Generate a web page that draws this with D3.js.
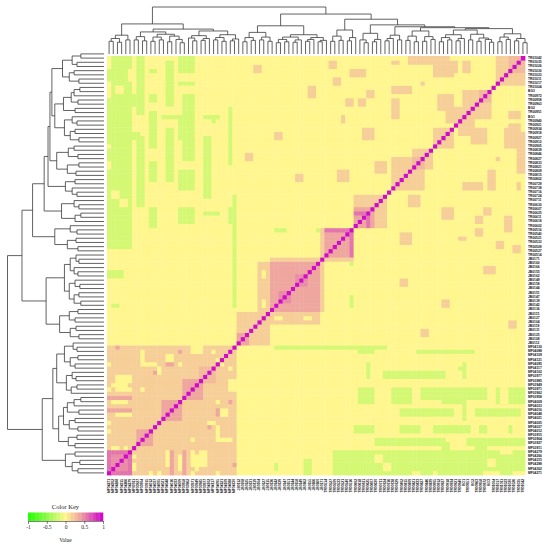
<!DOCTYPE html>
<html>
<head>
<meta charset="utf-8">
<script src="https://cdn.jsdelivr.net/npm/d3@7"></script>
<style>
  body { margin: 0; background: #fff; }
  svg { display: block; }
</style>
</head>
<body>
<svg id="chart" width="550" height="549"></svg>
<script>
// leaf names, in dendrogram order (left → right, bottom → top)
const leafNames = ("MF04271 MF04302 MF04288 MF04315 MF04266 MF04279 MF03911 MF03927 MF03904 MF03915 " +
  "MF04012 MF04037 MF04005 MF04021 MF04048 MF04016 MF04033 MF04009 MF03958 MF03962 " +
  "MF03971 MF03949 MF03985 MF03977 MF04102 MF04117 MF04095 MF04121 MF04109 MF04088 " +
  "MF04130 JB0112 JB0108 JB0125 JB0131 JB0119 JB0104 JB0127 JB0115 JB0136 " +
  "JB0142 JB0139 JB0147 JB0151 JB0144 JB0158 JB0149 JB0162 JB0155 JB0166 " +
  "JB0160 JB0171 TR00514 TR00527 TR00509 TR00533 TR00521 TR00540 TR00516 TR00602 " +
  "TR00618 TR00611 TR00625 TR00607 TR00630 TR00711 TR00724 TR00716 TR00738 TR00729 " +
  "TR00802 TR00815 TR00809 TR00821 TR00833 TR00827 TR00846 TR00839 TR00905 TR00912 " +
  "TR00927 TR00918 TR00934 TR00921 TR00940 BG1 TR00951 BG2 TR00963 TR00958 " +
  "TR00972 BG3 TR01004 TR01017 TR01011 TR01023 TR01030 TR01026 TR01035 TR01042").split(" ");

// dendrogram (same tree for rows and columns); numbers = merge height in % of root
const treeNewick =
  "((" +
    "(((x,x)27,(x,x)25)33,(x,x)30)40," +
    "((((x,x)30,(x,x)28)37,(((x,x)27,(x,x)30)36,((x,x)26,(x,(x,x)24)31)38)42)47," +
     "(((x,(x,x)28)34,((x,x)29,x)33)39,(((x,x)30,(x,x)27)35,((x,x)28,x)32)41)49)53" +
  ")64,(" +
    "((((x,x)26,(x,x)29)35,((x,x)30,(x,x)27)36)46," +
     "((((x,x)24,(x,x)26)31,((x,x)25,x)30)36,(((x,x)27,x)31,((x,x)26,x)29)35)41)60," +
    "((((x,x)27,(x,x)29)38,((x,x)28,x)35)51," +
     "(((x,(x,x)24)30,((x,x)26,x)31)44," +
      "((((x,x)28,x)33,(x,x)30)40," +
       "((((x,x)29,(x,x)26)38,((x,x)27,(x,x)31)37)49," +
        "(((((x,x)26,(x,x)30)35,((x,x)28,x)33)41,((x,x)30,((x,x)27,(x,(x,x)25)31)34)42)51," +
         "(((x,x)26,(x,x)31)36,((x,x)28,(x,x)24)33)43)54)56)58)62)74" +
  ")85)100";

// correlation regions: [i0, i1, j0, j1] (symmetric)
const baseValue = 0.02;
const peachRegions = [
  [0,30,0,30],[31,38,31,38],[36,50,36,50],[51,51,39,50],[51,58,51,58],[59,66,59,66],
  [68,75,68,75],[78,82,78,82],[81,84,84,87],[85,91,85,91],[93,99,93,99],
  [68,69,85,89],[77,81,98,99],[79,80,96,96],[82,83,96,98],[85,86,96,98],[95,98,78,82],
  [98,99,72,76],[87,90,79,82],[73,77,76,77],[68,72,91,92],[75,75,93,93],[68,69,98,98],
  [54,55,93,94],[57,58,88,89],[61,63,80,82],[64,66,72,74],[60,61,95,96],[70,71,45,46],
  [80,81,40,41],[90,92,48,49],[96,97,35,36],[75,76,33,34],[70,72,55,57],[88,89,60,61],
  [95,96,58,59],[53,54,97,98],[56,56,84,85],[62,63,90,91]
];
const softRegions = [[22,25,22,25],[73,75,73,75],[96,99,96,99],[89,91,89,91]];
const pinkRegions = [
  [7,10,7,10],[13,17,13,17],[18,22,18,22],[31,33,31,33],[39,50,39,50],[52,58,52,58],
  [59,63,59,63],[0,5,18,18],[0,5,15,15],[2,2,30,30],[17,17,29,29],[11,12,24,24],[26,27,14,15]
];
const strongRegions = [[0,5,0,5],[41,43,41,43],[45,47,45,47]];
const hotRegions = [[0,5,5,5],[0,0,0,5],[52,57,58,58],[59,61,62,62]];
const greenRegions = [
  [0,5,54,99],[6,7,88,90],[6,7,80,81],[10,11,70,74],[10,11,78,86],[10,11,89,90],
  [10,11,96,96],[10,11,59,63],[17,20,68,72],[18,20,75,90],[17,17,80,84],[17,20,96,99],
  [17,20,93,93],[13,20,85,85],[14,15,97,98],[23,26,85,85],[25,25,84,84],[29,29,74,87],
  [17,20,60,63],[23,26,62,62],[29,29,60,63],[30,30,40,66],[40,42,58,58],[50,50,58,58],
  [7,8,64,80],[7,8,86,99],[14,15,70,82],[14,15,88,97],[23,24,66,80],[0,3,47,48],[1,2,40,40]
];
const yellowRegions = [
  [8,8,26,29],[9,11,26,26],[0,0,26,26],[2,5,22,23],[2,5,20,20],[2,5,14,14],[0,0,12,12],
  [0,0,10,10],[1,2,6,6],[4,4,6,6],[17,17,26,26],[20,22,29,30],[25,25,29,29],[27,27,26,26],
  [17,17,1,4],[21,21,1,4],[23,23,3,5],[0,0,20,20],[8,8,20,20],[12,12,24,25],[14,15,27,28],
  [37,37,48,48],[37,37,41,41],[40,40,37,37],[47,47,37,37],
  [0,0,97,99],[0,0,90,93],[2,3,91,92],[0,0,78,78],[0,0,73,74],[1,2,66,67],[3,4,64,65],[5,5,94,96]
];
const layerValues = [
  [peachRegions, 0.2], [softRegions, 0.3], [pinkRegions, 0.38], [strongRegions, 0.5],
  [hotRegions, 0.6], [greenRegions, -0.2], [yellowRegions, baseValue]
];
const keyTicks = [-1, -0.5, 0, 0.5, 1];
const keyTickLabels = ["-1", "-0.5", "0", "0.5", "1"];

// — matrix ————————————————————————————————————————————————
const N = leafNames.length;
const M = d3.range(N).map(() => d3.range(N).map(() => baseValue));
layerValues.forEach(([regions, v]) => {
  regions.forEach(([i0, i1, j0, j1]) => {
    for (let i = i0; i <= i1; i++)
      for (let j = j0; j <= j1; j++) { M[i][j] = v; M[j][i] = v; }
  });
});
d3.range(N).forEach(i => { M[i][i] = 1; });

// — colours ————————————————————————————————————————————————
const ramp = d3.scaleLinear().domain([-1, 0, 0.4, 1])
  .range(["#1eff00", "#fff68f", "#eda2a0", "#cc00cc"]);
const nBins = 21;
const binColors = d3.range(nBins).map(k => ramp(-1 + (k + 0.5) * 2 / nBins));
const fill = d3.scaleQuantize().domain([-1, 1]).range(binColors);

// — layout ————————————————————————————————————————————————
const svg = d3.select("#chart");
const x = d3.scaleBand().domain(d3.range(N)).range([107, 525]);
const y = d3.scaleBand().domain(d3.range(N)).range([475, 56]);
const bw = x.bandwidth(), bh = y.bandwidth();

const cells = [];
d3.range(N).forEach(j => d3.range(N).forEach(i => cells.push({ i, j, v: M[i][j] })));
svg.append("g").selectAll("rect").data(cells).join("rect")
  .attr("x", d => x(d.i)).attr("y", d => y(d.j))
  .attr("width", bw + 0.4).attr("height", bh + 0.4)
  .attr("fill", d => fill(d.v));

// — dendrograms ——————————————————————————————————————————————
function parseNewick(s) {
  let pos = 0;
  function node() {
    if (s[pos] === "(") {
      pos++;
      const children = [node()];
      while (s[pos] === ",") { pos++; children.push(node()); }
      pos++;
      let num = "";
      while (pos < s.length && /[0-9.]/.test(s[pos])) num += s[pos++];
      return { h: +num / 100, children };
    }
    pos++;
    return { h: 0 };
  }
  return node();
}
const root = d3.hierarchy(parseNewick(treeNewick));
root.leaves().forEach((l, k) => { l.idx = k; });
root.eachAfter(n => {
  n.pos = n.children ? d3.mean(n.children, c => c.pos) : n.idx;
});

function treeSegments(along, height) {
  const segs = [];
  root.each(n => {
    if (!n.children) return;
    const h = height(n.data.h);
    n.children.forEach(c => segs.push([[along(c.pos), height(c.data.h)], [along(c.pos), h]]));
    segs.push([[along(n.children[0].pos), h], [along(n.children[n.children.length - 1].pos), h]]);
  });
  return segs;
}
const colCenter = p => x(0) + (p + 0.5) * bw;
const rowCenter = p => y(0) + bh - (p + 0.5) * bh;
const topH = d3.scaleLinear().domain([0, 1]).range([54, 7]);
const leftH = d3.scaleLinear().domain([0, 1]).range([104, 7.5]);
const line = d3.line();

svg.append("g").selectAll("path")
  .data(treeSegments(colCenter, topH)).join("path")
  .attr("d", line).attr("stroke", "#3a3a3a").attr("stroke-width", 0.8).attr("fill", "none");

svg.append("g").selectAll("path")
  .data(treeSegments(rowCenter, leftH).map(s => s.map(([a, b]) => [b, a]))).join("path")
  .attr("d", line).attr("stroke", "#3a3a3a").attr("stroke-width", 0.8).attr("fill", "none");

// — labels ————————————————————————————————————————————————
svg.append("g").selectAll("text").data(leafNames).join("text")
  .attr("x", 528).attr("y", (d, k) => y(k) + bh / 2)
  .attr("dominant-baseline", "middle")
  .attr("font-family", "Liberation Sans, Arial, sans-serif").attr("font-weight", "bold")
  .attr("font-size", 3.3).attr("fill", "#111")
  .text(d => d);

svg.append("g").selectAll("text").data(leafNames).join("text")
  .attr("transform", (d, k) => `translate(${x(k) + bw / 2},479) rotate(-90)`)
  .attr("text-anchor", "end").attr("dominant-baseline", "middle")
  .attr("font-family", "Liberation Sans, Arial, sans-serif").attr("font-weight", "bold")
  .attr("font-size", 3.3).attr("fill", "#111")
  .text(d => d);

// — colour key ———————————————————————————————————————————————
const kx = d3.scaleLinear().domain([-1, 1]).range([28, 103]);
const key = svg.append("g");
key.selectAll("rect").data(binColors).join("rect")
  .attr("x", (d, k) => kx(-1 + k * 2 / nBins))
  .attr("width", kx(2 / nBins) - kx(0) + 0.3)
  .attr("y", 512.5).attr("height", 8.5)
  .attr("fill", d => d);
const keyAxis = d3.axisBottom(kx).tickValues(keyTicks)
  .tickFormat((d, k) => keyTickLabels[k]).tickSize(3).tickSizeOuter(0);
key.append("g").attr("transform", "translate(0,521)").call(keyAxis)
  .call(g => g.select(".domain").attr("stroke", "#333").attr("stroke-width", 0.6))
  .call(g => g.selectAll(".tick line").attr("stroke", "#333").attr("stroke-width", 0.6))
  .call(g => g.selectAll(".tick text").attr("font-family", "Liberation Serif, serif")
    .attr("font-size", 5.5).attr("fill", "#222").attr("dy", "0.3em"));
key.append("text").attr("x", 65.5).attr("y", 509).attr("text-anchor", "middle")
  .attr("font-family", "Liberation Serif, serif").attr("font-size", 6.5).attr("fill", "#222")
  .text("Color Key");
key.append("text").attr("x", 65.5).attr("y", 542).attr("text-anchor", "middle")
  .attr("font-family", "Liberation Serif, serif").attr("font-size", 5.5).attr("fill", "#222")
  .text("Value");
</script>
</body>
</html>
